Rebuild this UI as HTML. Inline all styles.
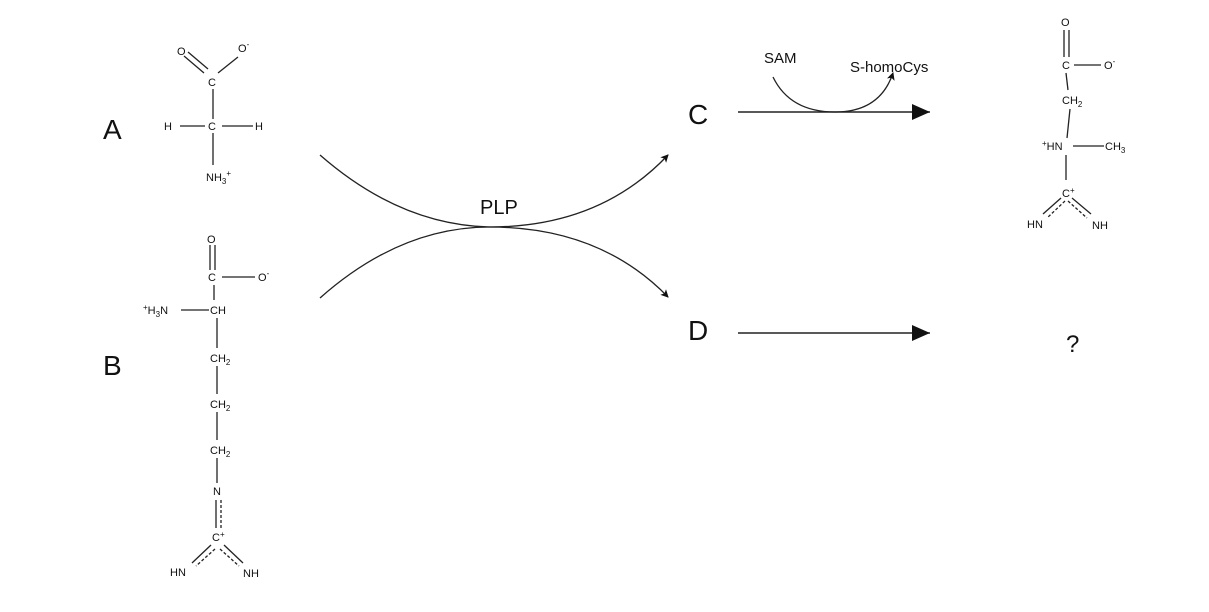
<!DOCTYPE html>
<html><head><style>body{margin:0;background:#fff}svg{display:block}text{font-family:"Liberation Sans",sans-serif;fill:#111}</style></head>
<body>
<svg width="1209" height="612" viewBox="0 0 1209 612" xmlns="http://www.w3.org/2000/svg">
<defs>
<marker id="s" markerWidth="8" markerHeight="8" refX="7" refY="4" orient="auto" markerUnits="userSpaceOnUse"><path d="M0,0 L8,4 L0,8 L2,4 Z" fill="#111"/></marker>
<marker id="b" markerWidth="20" markerHeight="20" refX="18" refY="10" orient="auto" markerUnits="userSpaceOnUse"><path d="M0,2 L18,10 L0,18 Z" fill="#111"/></marker>
</defs>
<g stroke="#222" stroke-width="1.3" fill="none">
<!-- A -->
<line x1="204" y1="73" x2="184" y2="56"/><line x1="208" y1="69" x2="188" y2="52"/>
<line x1="218" y1="73" x2="238" y2="57"/>
<line x1="213" y1="89" x2="213" y2="119"/>
<line x1="180" y1="126" x2="205" y2="126"/><line x1="222" y1="126" x2="253" y2="126"/>
<line x1="213" y1="133" x2="213" y2="165"/>
<!-- B -->
<line x1="210" y1="245" x2="210" y2="270"/><line x1="215" y1="245" x2="215" y2="270"/>
<line x1="222" y1="277" x2="255" y2="277"/>
<line x1="214" y1="285" x2="214" y2="300"/>
<line x1="181" y1="310" x2="209" y2="310"/>
<line x1="217" y1="318" x2="217" y2="348"/>
<line x1="217" y1="366" x2="217" y2="394"/>
<line x1="217" y1="412" x2="217" y2="440"/>
<line x1="217" y1="458" x2="217" y2="483"/>
<line x1="216" y1="500" x2="216" y2="528"/><line x1="221" y1="500" x2="221" y2="528" stroke-dasharray="3,2"/>
<line x1="211" y1="545" x2="192" y2="563"/><line x1="215" y1="549" x2="196" y2="566" stroke-dasharray="3,2"/>
<line x1="224" y1="545" x2="243" y2="563"/><line x1="220" y1="549" x2="239" y2="566" stroke-dasharray="3,2"/>
<!-- product -->
<line x1="1064" y1="30" x2="1064" y2="57"/><line x1="1069" y1="30" x2="1069" y2="57"/>
<line x1="1074" y1="65" x2="1101" y2="65"/>
<line x1="1066" y1="73" x2="1068" y2="90"/>
<line x1="1070" y1="109" x2="1067" y2="138"/>
<line x1="1073" y1="146" x2="1104" y2="146"/>
<line x1="1066" y1="155" x2="1066" y2="180"/>
<line x1="1061" y1="198" x2="1043" y2="214"/><line x1="1065" y1="201" x2="1047" y2="218" stroke-dasharray="3,2"/>
<line x1="1072" y1="198" x2="1091" y2="214"/><line x1="1068" y1="201" x2="1087" y2="218" stroke-dasharray="3,2"/>
<!-- PLP curves -->
<path d="M320,155 Q400,225 490,227 Q600,227 668,155" marker-end="url(#s)"/>
<path d="M320,298 Q400,227 490,227 Q600,227 668,297" marker-end="url(#s)"/>
<!-- SAM -->
<path d="M773,77 Q790,112 835,112 Q880,112 893,73" marker-end="url(#s)"/>
<!-- arrows -->
<line x1="738" y1="112" x2="930" y2="112" stroke-width="1.6" marker-end="url(#b)"/>
<line x1="738" y1="333" x2="930" y2="333" stroke-width="1.6" marker-end="url(#b)"/>
</g>
<g font-size="11">
<text x="177" y="55">O</text><text x="238" y="52">O<tspan font-size="8" dy="-5">-</tspan></text>
<text x="208" y="86">C</text>
<text x="164" y="130">H</text><text x="208" y="130">C</text><text x="255" y="130">H</text>
<text x="206" y="181">NH<tspan font-size="8" dy="3">3</tspan><tspan font-size="8" dy="-8">+</tspan></text>
<text x="207" y="243">O</text><text x="208" y="281">C</text><text x="258" y="281">O<tspan font-size="8" dy="-5">-</tspan></text>
<text x="143" y="314"><tspan font-size="8" dy="-4">+</tspan><tspan dy="4">H</tspan><tspan font-size="8" dy="3">3</tspan><tspan dy="-3">N</tspan></text>
<text x="210" y="314">CH</text>
<text x="210" y="362">CH<tspan font-size="8" dy="3">2</tspan></text>
<text x="210" y="408">CH<tspan font-size="8" dy="3">2</tspan></text>
<text x="210" y="454">CH<tspan font-size="8" dy="3">2</tspan></text>
<text x="213" y="495">N</text>
<text x="212" y="541">C<tspan font-size="8" dy="-4">+</tspan></text>
<text x="170" y="576">HN</text><text x="243" y="577">NH</text>
<text x="1061" y="26">O</text><text x="1062" y="69">C</text><text x="1104" y="69">O<tspan font-size="8" dy="-5">-</tspan></text>
<text x="1062" y="104">CH<tspan font-size="8" dy="3">2</tspan></text>
<text x="1042" y="150"><tspan font-size="8" dy="-4">+</tspan><tspan dy="4">HN</tspan></text>
<text x="1105" y="150">CH<tspan font-size="8" dy="3">3</tspan></text>
<text x="1062" y="197">C<tspan font-size="8" dy="-4">+</tspan></text>
<text x="1027" y="228">HN</text><text x="1092" y="229">NH</text>
</g>
<g font-size="16">
<text x="764" y="63" font-size="15">SAM</text>
<text x="850" y="72" font-size="15">S-homoCys</text>
<text x="480" y="214" font-size="20">PLP</text>
</g>
<g font-size="28">
<text x="103" y="139">A</text><text x="103" y="375">B</text>
<text x="688" y="124">C</text><text x="688" y="340">D</text>
<text x="1066" y="352" font-size="24">?</text>
</g>
</svg>
</body></html>
